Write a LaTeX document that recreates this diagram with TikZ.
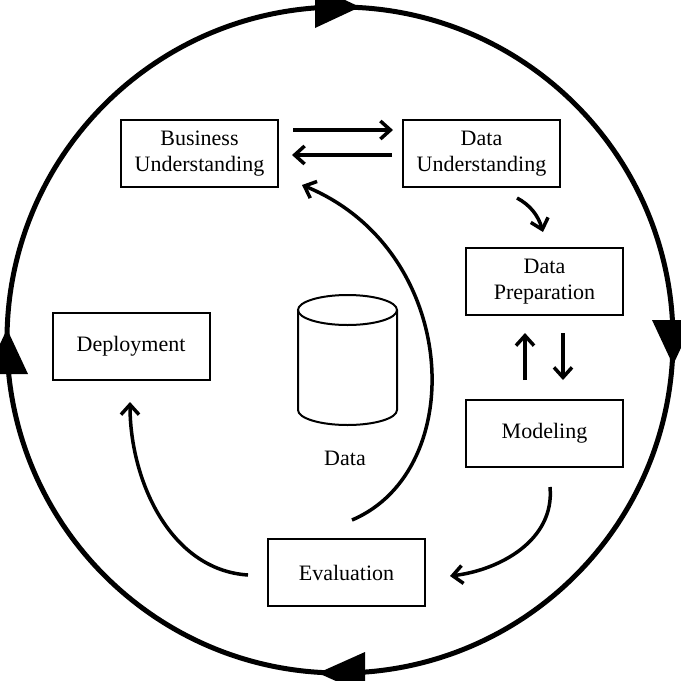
\documentclass[tikz,border=0pt]{standalone}
\usepackage{fontspec}
\setmainfont{Liberation Serif}
\usetikzlibrary{arrows.meta,shapes.geometric}
\begin{document}
\begin{tikzpicture}[x=1pt,y=-1pt,
  box/.style={draw,line width=2pt,minimum width=157pt,minimum height=67pt,align=center,font=\fontsize{22}{26}\selectfont,inner sep=2pt},
  arr/.style={line width=3.5pt,-{Straight Barb[length=10pt,width=18pt]}},
  tri/.style={fill=black}]
\useasboundingbox (0,0) rectangle (681,681);
\draw[line width=5pt] (340,340) circle (333);
\fill[tri] (315,-14) -- (315,28) -- (360,7) -- cycle;
\fill[tri] (652,320) -- (694,320) -- (673,365) -- cycle;
\fill[tri] (365,652) -- (365,694) -- (318,673) -- cycle;
\fill[tri] (-14,374) -- (28,374) -- (7,329) -- cycle;
\node[box] (bu) at (199.5,153.5) {Business\\Understanding};
\node[box] (du) at (481.5,153.5) {Data\\Understanding};
\node[box] (dp) at (544.5,281.5) {Data\\Preparation};
\node[box] (mo) at (544.5,433.5) {Modeling};
\node[box] (de) at (131,346.5) {Deployment};
\node[box] (ev) at (346.5,572.5) {Evaluation};
\draw[line width=2pt] (298,310) -- (298,410) arc[start angle=180,end angle=360,x radius=49.5,y radius=-15] -- (397,310);
\draw[line width=2pt] (347.5,310) ellipse (49.5 and 15);
\node[font=\fontsize{22}{26}\selectfont] (dl) at (345,458) {Data};
\coordinate (a1) at (293,130); \coordinate (a2) at (393,130);
\coordinate (b1) at (392,155); \coordinate (b2) at (292,155);
\coordinate (c1) at (517,198); \coordinate (c2) at (543,232);
\draw[arr] (a1) -- (a2);
\draw[arr] (b1) -- (b2);
\draw[arr] (c1) .. controls (530,205) and (538,215) .. (c2);
\draw[arr] (525,380) -- (525,333);
\draw[arr] (563,333) -- (563,380);
\draw[arr] (550,487) .. controls (555,540) and (500,570) .. (450,576);
\draw[arr] (352,520) .. controls (470,470) and (460,250) .. (302,185);
\draw[arr] (248,575) .. controls (170,570) and (130,480) .. (130,402);
\end{tikzpicture}
\end{document}
